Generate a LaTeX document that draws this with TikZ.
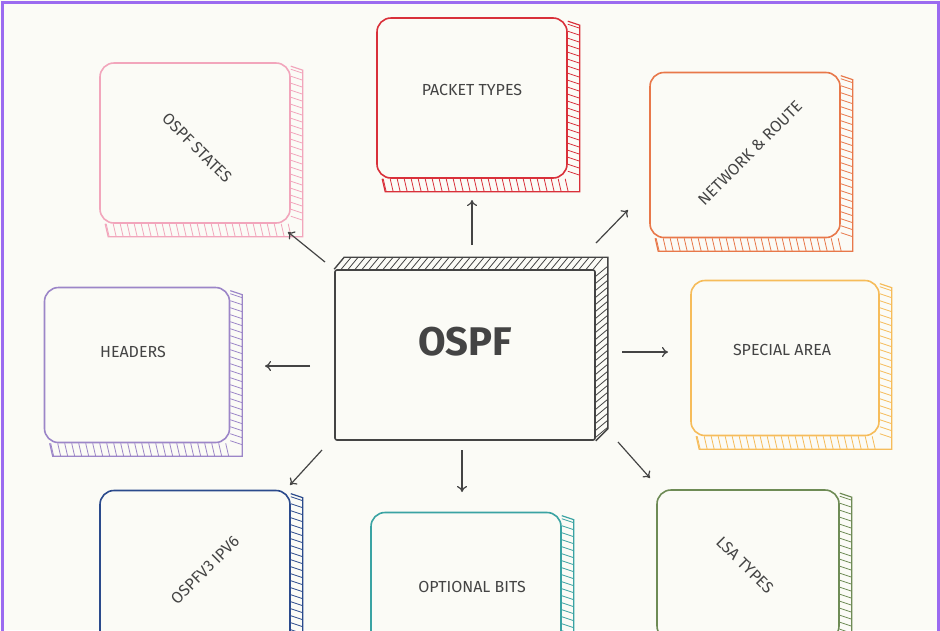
\documentclass[tikz,border=0pt]{standalone}
\usepackage{fontspec}
\setmainfont{Fira Sans}
\usetikzlibrary{calc,arrows.meta}
\definecolor{paper}{HTML}{FBFBF6}
\definecolor{frame}{HTML}{9B6BF0}
\definecolor{ink}{HTML}{444444}
\definecolor{cred}{HTML}{D9303A}
\definecolor{cpink}{HTML}{F2A6BC}
\definecolor{corange}{HTML}{E8784A}
\definecolor{cpurple}{HTML}{9C86C8}
\definecolor{cyellow}{HTML}{F6BC5A}
\definecolor{cnavy}{HTML}{2B4A8C}
\definecolor{cteal}{HTML}{3AA3A3}
\definecolor{cgreen}{HTML}{6E8B55}

% box with hatched bottom and right sides
\newcommand\sketchbox[6]{%
  \node[card, draw=#6, minimum width=#4pt, minimum height=#5pt] (#1) at (#2,#3) {};
  \draw[#6, line width=1.2pt] ($(#1.south west)+(6,0)$) -- ++(3,13) -- ($(#1.south east)+(12,13)$)
    -- ($(#1.north east)+(12,8)$) -- ($(#1.north east)+(0,4)$);
  \pgfmathsetmacro\nb{#4/7}
  \foreach \i in {1,...,\nb} \draw[#6, line width=.8pt] ($(#1.south west)+(7*\i,0)$) -- ++(3,13);
  \pgfmathsetmacro\nr{#5/7}
  \foreach \j in {1,...,\nr} \draw[#6, line width=.8pt] ($(#1.north east)+(0,7*\j)$) -- ++(12,4);
}

\begin{document}
\begin{tikzpicture}[x=1pt, y=-1pt]
  \tikzset{
    card/.style={line width=1.6pt, rounded corners=14pt, fill=paper},
    label/.style={font=\fontsize{16}{18}\selectfont, text=ink},
    link/.style={-{To[length=6pt,width=10pt]}, line width=1.2pt, ink}
  }
  \fill[paper] (0,0) rectangle (940,630);
  \useasboundingbox (0,0) rectangle (940,630);
  \draw[frame, line width=3pt] (2,632) -- (2,2) -- (938,2) -- (938,632);

  % center box
  \node[card, rounded corners=2pt, draw=ink, minimum width=260pt, minimum height=170pt] (ospf) at (465,355) {};
  \draw[ink, line width=1.4pt] (ospf.north west) -- ++(10,-12) -- ($(ospf.north east)+(12,-12)$)
    -- ($(ospf.south east)+(12,-12)$) -- (ospf.south east);
  \foreach \i in {1,...,37} \draw[ink, line width=.8pt] ($(ospf.north west)+(7*\i,0)$) -- ++(10,-12);
  \foreach \j in {1,...,24} \draw[ink, line width=.8pt] ($(ospf.north east)+(0,7*\j)$) -- ++(12,-10);
  \node[font=\fontsize{40}{44}\selectfont\bfseries, text=ink] (title) at (465,342) {OSPF};

  % satellites
  \sketchbox{pkt}{472}{98}{190}{160}{cred}
  \node[label] (pktt) at (472,90) {PACKET TYPES};
  \sketchbox{sts}{195}{143}{190}{160}{cpink}
  \node[label, rotate=-45] (stst) at (197,148) {OSPF STATES};
  \sketchbox{net}{745}{155}{190}{165}{corange}
  \node[label, rotate=45] (nett) at (750,153) {NETWORK \& ROUTE};
  \sketchbox{hdr}{137}{365}{185}{155}{cpurple}
  \node[label] (hdrt) at (133,352) {HEADERS};
  \sketchbox{spa}{785}{358}{188}{155}{cyellow}
  \node[label] (spat) at (782,350) {SPECIAL AREA};
  \sketchbox{v3}{195}{568}{190}{155}{cnavy}
  \node[label, rotate=45] (v3t) at (205,570) {OSPFV3 IPV6};
  \sketchbox{opt}{466}{580}{190}{135}{cteal}
  \node[label] (optt) at (472,587) {OPTIONAL BITS};
  \sketchbox{lsa}{748}{565}{182}{150}{cgreen}
  \node[label, rotate=-45] (lsat) at (745,565) {LSA TYPES};

  % arrow ends
  \coordinate (a1) at (472,245); \coordinate (b1) at (472,200);
  \coordinate (a2) at (325,262); \coordinate (b2) at (288,232);
  \coordinate (a3) at (596,243); \coordinate (b3) at (628,210);
  \coordinate (a4) at (310,366); \coordinate (b4) at (265,366);
  \coordinate (a5) at (622,352); \coordinate (b5) at (668,352);
  \coordinate (a6) at (322,450); \coordinate (b6) at (290,485);
  \coordinate (a7) at (462,450); \coordinate (b7) at (462,492);
  \coordinate (a8) at (618,442); \coordinate (b8) at (650,478);
  \foreach \k in {1,...,8} \draw[link] (a\k) -- (b\k);
\end{tikzpicture}
\end{document}
